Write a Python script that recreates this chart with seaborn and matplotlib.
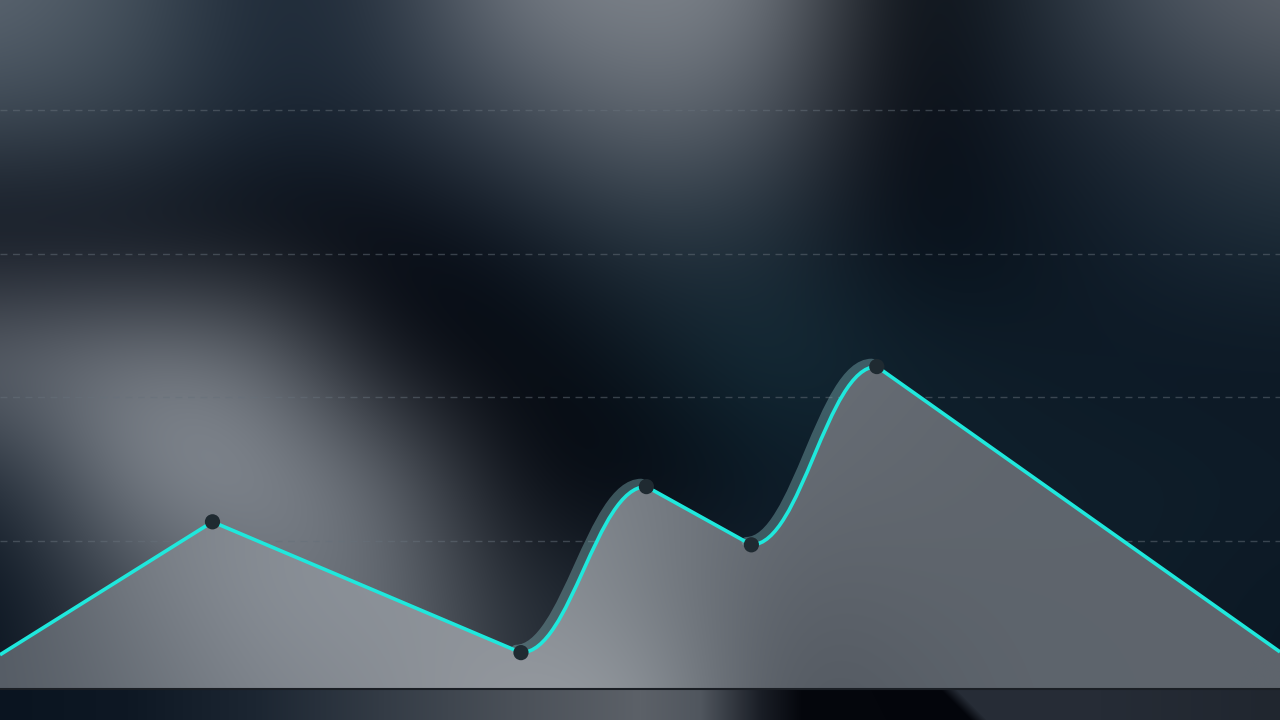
import numpy as np
import matplotlib
matplotlib.use("Agg")
import matplotlib.pyplot as plt
import seaborn as sns
from matplotlib.colors import to_rgb
from matplotlib.path import Path
from matplotlib.patches import PathPatch
from matplotlib.transforms import ScaledTranslation

# ---- series -------------------------------------------------------------
x_vals = [0.0, 16.6, 40.7, 50.5, 58.7, 68.5, 100.0]
y_vals = [4.2, 22.7, 4.5, 27.6, 19.5, 44.3, 4.6]
# segment i -> i+1 drawn as an eased curve (mid-transition look)
eased = [False, False, True, False, True, False]
grid_vals = [20, 40, 60, 80]

Y_MIN, Y_MAX = -0.56, 95.3
LINE_COLOR = "#1fe8dc"
DOT_COLOR = "#1f2a31"

# ---- blurred backdrop (7 rows at y=0..720 step 120, 11 cols at x=0..1280 step 128)
BG_ABOVE = [
    ["#5e6873", "#48545f", "#1c2836", "#2a3542", "#747a83", "#80868d", "#777d85", "#05090f", "#1e2832", "#4a5460", "#62676f"],
    ["#3e4a56", "#384450", "#1a2634", "#1e2a38", "#3e4854", "#626972", "#4e5660", "#05080f", "#121c28", "#26303c", "#36414c"],
    ["#060b15", "#050a14", "#04080f", "#03060e", "#0c1622", "#24323e", "#1e2c38", "#070e18", "#0a141e", "#142230", "#1a2a36"],
    ["#6a7079", "#7a8088", "#70767e", "#0c1018", "#02050b", "#0c1822", "#16303c", "#10222e", "#0e1c28", "#0c1824", "#0c1824"],
    ["#1a2430", "#80868e", "#8a9098", "#6a7078", "#080c14", "#03070e", "#0a1824", "#0f1f2b", "#0f1f2b", "#0f1f2b", "#0e1c28"],
    ["#08121e", "#3a424c", "#6a7078", "#6a7078", "#2a3038", "#1a2530", "#142230", "#10202c", "#0e1e2a", "#0e1c28", "#0c1824"],
    ["#08121e", "#3a424c", "#6a7078", "#6a7078", "#2a3038", "#1a2530", "#142230", "#10202c", "#0e1e2a", "#0e1c28", "#0c1824"],
]
BG_UNDER = [
    ["#6a7078"] * 11,
    ["#6a7078"] * 11,
    ["#6a7078"] * 11,
    ["#6a7078", "#6a7078", "#6a7078", "#6a7078", "#6a7078", "#6a7078", "#6a7078", "#646a72", "#60666e", "#5e656d", "#5e656d"],
    ["#5a6068", "#7e848b", "#868c93", "#8a9097", "#8a9097", "#7a8087", "#656b73", "#62686f", "#5f656d", "#5e656d", "#5e656d"],
    ["#525962", "#70767e", "#8a9098", "#8c9299", "#8e9399", "#7c8288", "#5a6068", "#5d636b", "#5e656d", "#5e656d", "#5e656d"],
    ["#535a63", "#646b73", "#7a8088", "#868b92", "#989ca2", "#9aa0a6", "#4e545c", "#565c64", "#5e656d", "#5e646c", "#5e646c"],
]
STRIP_POS = [0, 128, 256, 384, 512, 640, 700, 760, 800, 940, 956, 1100, 1280]
STRIP_COL = ["#0a1420", "#0e1824", "#1c2632", "#343c46", "#4a5058", "#5c6168", "#50565e",
             "#1a1e26", "#05070d", "#03050b", "#262c36", "#262c36", "#20262f"]


def _rgb_grid(rows):
    return np.array([[to_rgb(c) for c in row] for row in rows])


def _strip_image(height=31, width=1280):
    cols = np.array([to_rgb(c) for c in STRIP_COL])
    xs = np.arange(width)
    img = np.zeros((height, width, 3))
    for r in range(height):
        pos = [p + r if p in (940, 956) else p for p in STRIP_POS]
        for ch in range(3):
            img[r, :, ch] = np.interp(xs, pos, cols[:, ch])
    return img


def _series_path(xs, ys, eased, k=0.4, base=None):
    verts, codes = [], []
    if base is not None:
        verts += [(xs[0], base), (xs[0], ys[0])]
        codes += [Path.MOVETO, Path.LINETO]
    else:
        verts.append((xs[0], ys[0]))
        codes.append(Path.MOVETO)
    for i, e in enumerate(eased):
        xa, ya, xb, yb = xs[i], ys[i], xs[i + 1], ys[i + 1]
        if e:
            dx = xb - xa
            verts += [(xa + k * dx, ya), (xb - k * dx, yb), (xb, yb)]
            codes += [Path.CURVE4] * 3
        else:
            verts.append((xb, yb))
            codes.append(Path.LINETO)
    if base is not None:
        verts += [(xs[-1], base), (xs[0], base)]
        codes += [Path.LINETO, Path.CLOSEPOLY]
    return Path(verts, codes)


sns.set_theme(style="white")
fig = plt.figure(figsize=(12.8, 7.2), dpi=100)

# backdrop in pixel coordinates
bg_ax = fig.add_axes([0, 0, 1, 1])
bg_ax.imshow(_rgb_grid(BG_ABOVE), extent=[-64, 1344, 780, -60],
             interpolation="bicubic", aspect="auto")
bg_ax.set_xlim(0, 1280)
bg_ax.set_ylim(720, 0)
bg_ax.axis("off")

# strip below the plot area
strip_ax = fig.add_axes([0, 0, 1, 31 / 720])
strip_ax.imshow(_strip_image(), aspect="auto", interpolation="bilinear")
strip_ax.axis("off")

# main plot
ax = fig.add_axes([0, 31 / 720, 1, 689 / 720])
ax.patch.set_alpha(0)

px_per_unit = 143.7 / 20
top_y = (685 + 60) / px_per_unit
bot_y = (685 - 780) / px_per_unit
under = ax.imshow(_rgb_grid(BG_UNDER), extent=[-5, 105, bot_y, top_y],
                  interpolation="bicubic", aspect="auto", zorder=1)
fill_patch = PathPatch(_series_path(x_vals, y_vals, eased, base=Y_MIN),
                       facecolor="none", edgecolor="none", transform=ax.transData)
ax.add_patch(fill_patch)
under.set_clip_path(fill_patch)

# motion ghost alongside the eased segments
ghost_tr = ax.transData + ScaledTranslation(-0.05, 0.03, fig.dpi_scale_trans)
for i, e in enumerate(eased):
    if not e:
        continue
    seg = _series_path(x_vals[i:i + 2], y_vals[i:i + 2], [True])
    ax.add_patch(PathPatch(seg, facecolor="none", edgecolor="#7fb0b4", lw=7,
                           alpha=0.42, transform=ghost_tr, zorder=2, capstyle="round"))

ax.add_patch(PathPatch(_series_path(x_vals, y_vals, eased), facecolor="none",
                       edgecolor=LINE_COLOR, lw=2.6, zorder=3, joinstyle="round"))

sns.scatterplot(x=x_vals[1:-1], y=y_vals[1:-1], s=120, color=DOT_COLOR,
                edgecolor="none", zorder=4, ax=ax)

ax.set_xlim(0, 100)
ax.set_ylim(Y_MIN, Y_MAX)
ax.set_yticks(grid_vals)
ax.set_xticks([])
ax.tick_params(left=False, labelleft=False, bottom=False, labelbottom=False)
ax.set_axisbelow(True)
ax.yaxis.grid(True, color="#66707a", alpha=0.5, lw=1.0, linestyle=(0, (5, 4)))
ax.xaxis.grid(False)
for side in ("top", "left", "right"):
    ax.spines[side].set_visible(False)
ax.spines["bottom"].set_color("#1b1f25")
ax.spines["bottom"].set_linewidth(1.5)

fig.savefig("out.png", dpi=100)
